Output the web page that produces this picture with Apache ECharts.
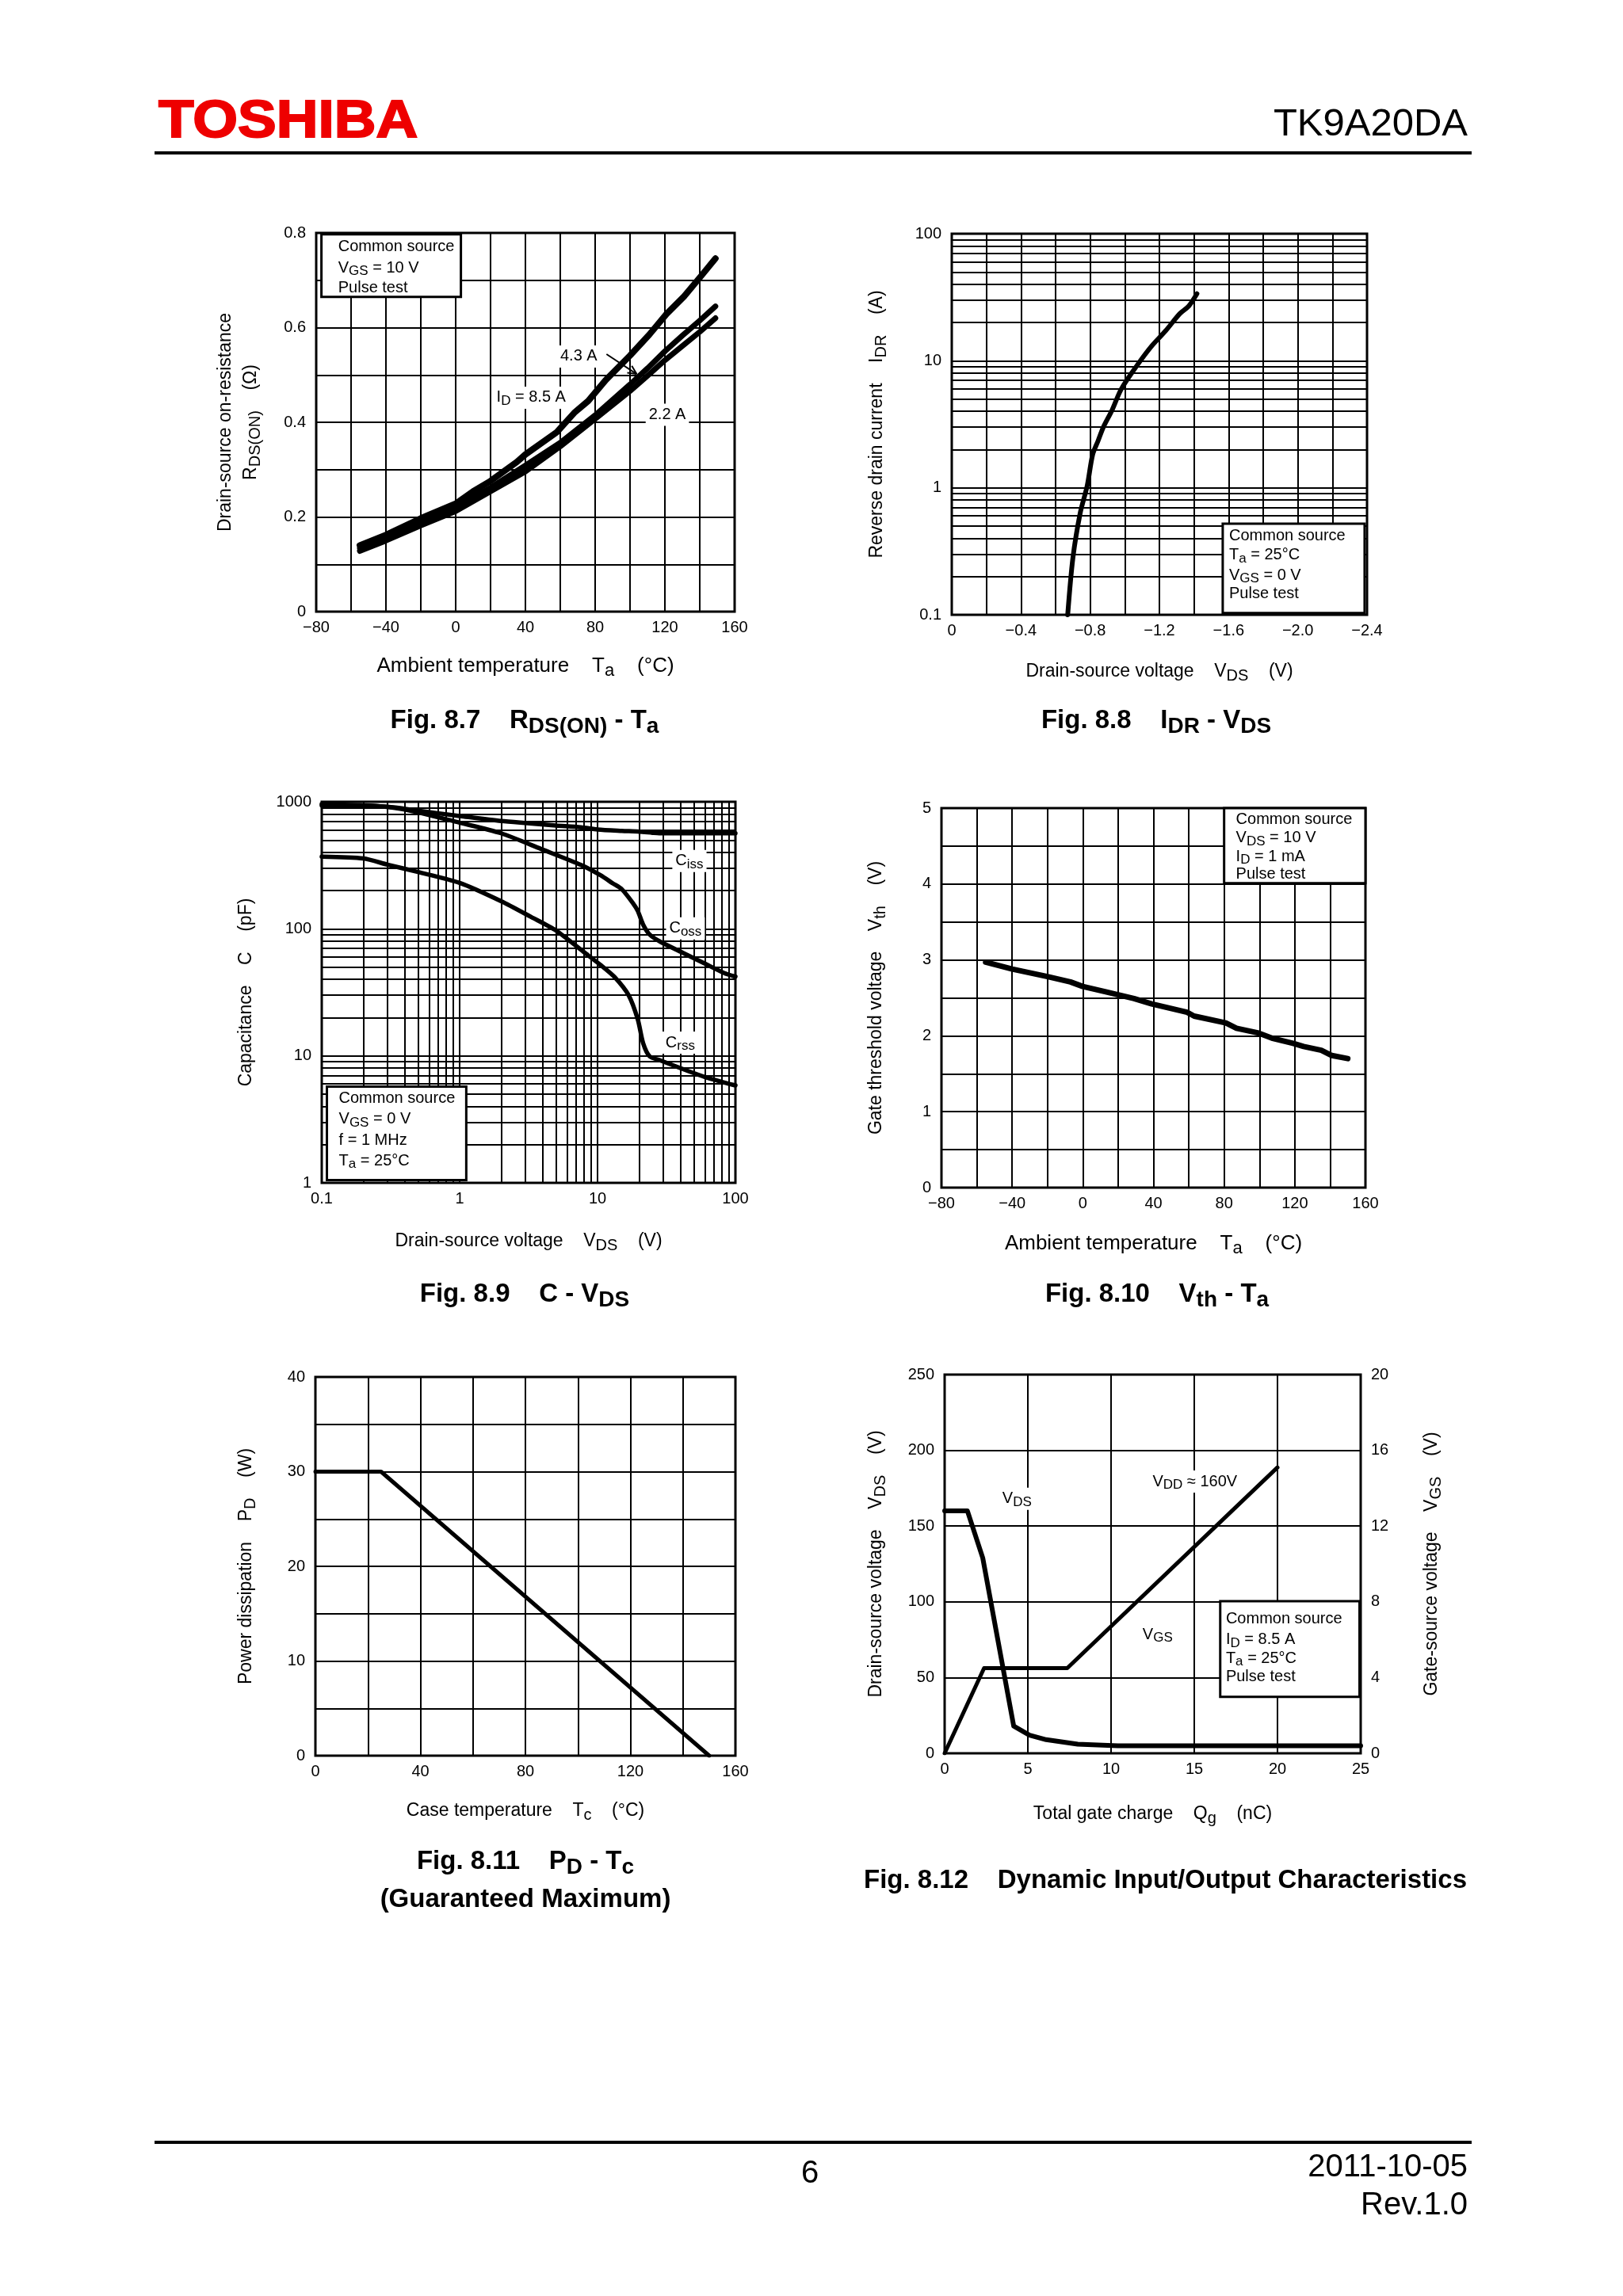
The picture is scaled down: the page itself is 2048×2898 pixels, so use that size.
<!DOCTYPE html>
<html><head><meta charset="utf-8">
<script src="https://cdn.jsdelivr.net/npm/echarts@6/dist/echarts.min.js"></script>
<style>html,body{margin:0;padding:0;background:#fff}#c{width:2048px;height:2898px}</style>
</head><body><div id="c"></div>
<script>
// ---------------- DATA ----------------
// Fig 8.7 RDS(ON) - Ta  [Ta (°C), RDS(ON) (Ω)]
const rds_8_5A = [[-55,0.140],[-40,0.162],[-20,0.197],[0,0.228],[10,0.254],[20,0.276],[35,0.316],[40,0.332],[58,0.379],[68,0.420],[76,0.445],[86,0.489],[100,0.541],[111,0.585],[121,0.629],[131,0.666],[141,0.710],[149,0.746]];
const rds_4_3A = [[-55,0.134],[-40,0.155],[-20,0.190],[0,0.222],[20,0.262],[40,0.309],[60,0.357],[80,0.415],[100,0.480],[110,0.514],[120,0.550],[130,0.583],[140,0.615],[149,0.645]];
const rds_2_2A = [[-55,0.128],[-40,0.150],[-20,0.182],[0,0.212],[20,0.254],[40,0.296],[60,0.349],[80,0.407],[100,0.466],[110,0.498],[120,0.531],[130,0.561],[140,0.591],[149,0.620]];
// Fig 8.8 IDR - VDS  [VDS (V), IDR (A)]
const idr_vds = [[-0.67,0.1],[-0.70,0.28],[-0.742,0.63],[-0.783,1.04],[-0.814,1.82],[-0.845,2.33],[-0.876,3.0],[-0.927,4.1],[-0.979,5.96],[-1.071,9.2],[-1.154,13],[-1.236,17.2],[-1.318,23.5],[-1.37,27],[-1.417,33.7]];
// Fig 8.9 C - VDS  [VDS (V), C (pF)]
const ciss = [[0.1,960],[0.3,913],[0.5,850],[1,773],[2,705],[3.1,678],[5,650],[7.6,630],[10,605],[15,590],[20,582],[25,570],[28,565],[50,565],[100,565]];
const coss = [[0.1,935],[0.19,940],[0.4,870],[1,685],[2,565],[3.9,425],[7.6,318],[10.5,264],[12.9,228],[15,205],[18,160],[19.6,138],[21.4,108],[23.9,90],[28.6,79],[42.5,64],[60.5,53],[82.4,45],[100,42]];
const crss = [[0.1,370],[0.2,358],[0.3,320],[0.5,280],[1,230],[2,165],[3.3,124],[5,97],[7.9,66],[10.5,52],[13.2,42],[16.8,30],[19.6,19.3],[21.4,12.6],[23.9,9.9],[28.6,9.2],[42.5,7.8],[60.5,6.8],[100,5.85]];
// Fig 8.10 Vth - Ta  [Ta (°C), Vth (V)]
const vth_ta = [[-55,2.97],[-40,2.88],[-20,2.78],[-7,2.71],[0,2.65],[13,2.58],[29,2.49],[39,2.42],[59,2.31],[63,2.26],[81,2.17],[87,2.10],[99,2.04],[107,1.97],[119,1.90],[125,1.86],[135,1.81],[141,1.74],[150,1.70]];
// Fig 8.11 PD - Tc  [Tc (°C), PD (W)]
const pd_tc = [[0,30],[25,30],[150,0]];
// Fig 8.12 Dynamic I/O  [Qg (nC), V]
const vds_qg = [[0,160],[1.37,160],[2.29,129],[4.15,18],[5.1,12],[6.1,9],[8,6],[10.4,5],[25,5]];
const vgs_qg = [[0,0],[2.37,4.5],[7.37,4.5],[20,15.1]];

// ---------------- STYLE HELPERS ----------------
const F = "'Liberation Sans', Arial, Helvetica, sans-serif";
function rs(size, weight, lh) {
  weight = weight || 'normal';
  const ss = Math.round(size * 0.85);
  return {
    n: {fontFamily: F, fontSize: size, fontWeight: weight, color: '#000', lineHeight: lh || Math.round(size * 1.2), verticalAlign: 'middle'},
    s: {fontFamily: F, fontSize: ss, fontWeight: weight, color: '#000', lineHeight: size, verticalAlign: 'middle', padding: [Math.round(size * 0.45), 0, 0, 0]}
  };
}
function rt() {
  const parts = Array.prototype.slice.call(arguments);
  return parts.map((p, i) => p === '' ? '' : (i % 2 === 0 ? '{n|' + p + '}' : '{s|' + p + '}')).join('');
}
const neg = v => v < 0 ? '\u2212' + (-v) : String(v);
const GL = {color: '#000', width: 2};

function axis(gi, o) {
  const base = {
    type: 'value', gridIndex: gi,
    axisLine: {show: false}, axisTick: {show: false},
    splitLine: {show: true, lineStyle: GL},
    nameLocation: 'middle',
    nameTextStyle: {rich: rs(23)}
  };
  const lab = {color: '#000', fontFamily: F, fontSize: 20, margin: 10, hideOverlap: false};
  if (o.axisLabel) Object.assign(lab, o.axisLabel);
  const r = Object.assign(base, o);
  r.axisLabel = lab;
  return r;
}
function minorLog(lo, hi) {
  const out = [];
  for (let d = Math.floor(Math.log10(lo)); d < Math.ceil(Math.log10(hi)); d++) {
    for (let k = 2; k <= 9; k++) { const v = +(k * Math.pow(10, d)).toPrecision(3); if (v > lo && v < hi) out.push(v); }
  }
  return out;
}
function gridMark(xs, ys) {
  return {
    silent: true, symbol: ['none', 'none'], animation: false,
    label: {show: false}, emphasis: {disabled: true},
    lineStyle: {color: '#000', width: 2, type: 'solid'},
    data: xs.map(v => ({xAxis: v})).concat(ys.map(v => ({yAxis: v})))
  };
}
function line(xi, yi, data, w, extra) {
  return Object.assign({type: 'line', xAxisIndex: xi, yAxisIndex: yi, data: data, showSymbol: false, symbol: 'none',
    lineStyle: {color: '#000', width: w, cap: 'round', join: 'round'}, itemStyle: {color: '#000'}, z: 5, silent: true}, extra || {});
}
const logFmt = v => String(+(+v).toPrecision(3));

// ---------------- LAYOUT ----------------
const grids = [
  {left: 399, top: 294, width: 528, height: 478},
  {left: 1201, top: 295, width: 524, height: 481},
  {left: 406, top: 1012, width: 522, height: 481},
  {left: 1188, top: 1020, width: 535, height: 479},
  {left: 398, top: 1738, width: 530, height: 478},
  {left: 1192, top: 1735, width: 525, height: 478}
];

const option = {
  animation: false,
  backgroundColor: '#ffffff',
  grid: grids.map(g => Object.assign({show: true, borderColor: '#000', borderWidth: 3, backgroundColor: 'rgba(0,0,0,0)', containLabel: false, outerBoundsMode: 'none'}, g)),
  xAxis: [
    axis(0, {min: -80, max: 160, interval: 20, axisLabel: {formatter: v => v % 40 === 0 ? neg(v) : ''},
      name: rt('Ambient temperature    T', 'a', '    (°C)'), nameGap: 53, nameTextStyle: {rich: rs(26)}}),
    axis(1, {min: -2.4, max: 0, interval: 0.2, inverse: true,
      axisLabel: {formatter: v => { const k = Math.round(-v * 10); return k % 4 === 0 ? (k === 0 ? '0' : '\u2212' + (k / 10).toFixed(1)) : ''; }},
      name: rt('Drain-source voltage    V', 'DS', '    (V)'), nameGap: 58}),
    axis(2, {type: 'log', logBase: 10, min: 0.1, max: 100, axisLabel: {formatter: logFmt},
      name: rt('Drain-source voltage    V', 'DS', '    (V)'), nameGap: 60}),
    axis(3, {min: -80, max: 160, interval: 20, axisLabel: {formatter: v => v % 40 === 0 ? neg(v) : ''},
      name: rt('Ambient temperature    T', 'a', '    (°C)'), nameGap: 55, nameTextStyle: {rich: rs(26)}}),
    axis(4, {min: 0, max: 160, interval: 20, axisLabel: {formatter: v => v % 40 === 0 ? String(v) : ''},
      name: rt('Case temperature    T', 'c', '    (°C)'), nameGap: 56}),
    axis(5, {min: 0, max: 25, interval: 5,
      name: rt('Total gate charge    Q', 'g', '    (nC)'), nameGap: 63})
  ],
  yAxis: [
    axis(0, {min: 0, max: 0.8, interval: 0.1, axisLabel: {margin: 13, formatter: v => { const k = Math.round(v * 10); return k % 2 === 0 ? (k === 0 ? '0' : (k / 10).toFixed(1)) : ''; }},
      name: rt('Drain-source on-resistance') + '\n' + rt('R', 'DS(ON)', '    (Ω)'), nameGap: 66, nameTextStyle: {rich: rs(23, 'normal', 32)}}),
    axis(1, {type: 'log', logBase: 10, min: 0.1, max: 100, axisLabel: {margin: 13, formatter: logFmt},
      name: rt('Reverse drain current    I', 'DR', '    (A)'), nameGap: 80}),
    axis(2, {type: 'log', logBase: 10, min: 1, max: 1000, axisLabel: {margin: 13, formatter: logFmt},
      name: rt('Capacitance    C    (pF)'), nameGap: 81}),
    axis(3, {min: 0, max: 5, interval: 0.5, axisLabel: {margin: 13, formatter: v => Number.isInteger(v) ? String(v) : ''},
      name: rt('Gate threshold voltage    V', 'th', '    (V)'), nameGap: 68}),
    axis(4, {min: 0, max: 40, interval: 5, axisLabel: {margin: 13, formatter: v => v % 10 === 0 ? String(v) : ''},
      name: rt('Power dissipation    P', 'D', '    (W)'), nameGap: 73}),
    axis(5, {min: 0, max: 250, interval: 50, axisLabel: {margin: 13},
      name: rt('Drain-source voltage    V', 'DS', '    (V)'), nameGap: 72}),
    axis(5, {min: 0, max: 20, interval: 4, position: 'right', splitLine: {show: false}, axisLabel: {margin: 13},
      name: rt('Gate-source voltage    V', 'GS', '    (V)'), nameGap: 76})
  ],
  series: [
    line(0, 0, rds_8_5A, 8, {name: 'ID = 8.5 A'}),
    line(0, 0, rds_4_3A, 7, {name: '4.3 A'}),
    line(0, 0, rds_2_2A, 7, {name: '2.2 A'}),
    line(1, 1, idr_vds, 6, {name: 'IDR', smooth: 0.3, markLine: gridMark([], minorLog(0.1, 100))}),
    line(2, 2, ciss, 5.5, {name: 'Ciss', smooth: 0.25, markLine: gridMark(minorLog(0.1, 100), minorLog(1, 1000))}),
    line(2, 2, coss, 5.5, {name: 'Coss', smooth: 0.25}),
    line(2, 2, crss, 5.5, {name: 'Crss', smooth: 0.25}),
    line(3, 3, vth_ta, 7, {name: 'Vth'}),
    line(4, 4, pd_tc, 5, {name: 'PD'}),
    line(5, 5, vds_qg, 6, {name: 'VDS'}),
    line(5, 6, vgs_qg, 5, {name: 'VGS'})
  ]
};

const chart = echarts.init(document.getElementById('c'), null, {renderer: 'canvas'});
chart.setOption(option);

// ---------------- ANNOTATIONS ----------------
const P = (xi, yi, x, y) => chart.convertToPixel({xAxisIndex: xi, yAxisIndex: yi}, [x, y]);
const G = [];
function box(xi, yi, x0, y0, x1, y1) {
  const a = P(xi, yi, x0, y0), b = P(xi, yi, x1, y1);
  G.push({type: 'rect', z: 100, shape: {x: Math.min(a[0], b[0]), y: Math.min(a[1], b[1]), width: Math.abs(b[0] - a[0]), height: Math.abs(b[1] - a[1])},
    style: {fill: '#fff', stroke: '#000', lineWidth: 3}});
}
function tAt(px, py, str, size, align, weight, bg) {
  const st = {text: str, rich: rs(size, weight), align: align || 'left', verticalAlign: 'middle'};
  if (bg) { st.backgroundColor = '#fff'; st.padding = [2, 4]; }
  G.push({type: 'text', z: 101, x: px, y: py, style: st});
}
function txt(xi, yi, x, y, str, align, bg) {
  const p = P(xi, yi, x, y);
  tAt(p[0], p[1], str, 20, align, 'normal', bg);
}
function legendBox(xi, yi, x0, y0, x1, y1, tx, ys, lines) {
  box(xi, yi, x0, y0, x1, y1);
  lines.forEach((l, i) => txt(xi, yi, tx, ys[i], l, 'left'));
}

// Fig 8.7
legendBox(0, 0, -77, 0.797, 3, 0.665, -67.4, [0.771, 0.726, 0.683],
  [rt('Common source'), rt('V', 'GS', ' = 10 V'), rt('Pulse test')]);
txt(0, 0, 70.6, 0.539, rt('4.3 A'), 'center', true);
txt(0, 0, 43.3, 0.452, rt('I', 'D', ' = 8.5 A'), 'center', true);
txt(0, 0, 121.4, 0.416, rt('2.2 A'), 'center', true);
(function () {
  const a = P(0, 0, 86.5, 0.544), b = P(0, 0, 103.8, 0.502);
  G.push({type: 'line', z: 101, shape: {x1: a[0], y1: a[1], x2: b[0], y2: b[1]}, style: {stroke: '#000', lineWidth: 2}});
  const ang = Math.atan2(b[1] - a[1], b[0] - a[0]), L = 12;
  [0.45, -0.45].forEach(d => {
    G.push({type: 'line', z: 101, shape: {x1: b[0], y1: b[1], x2: b[0] - L * Math.cos(ang + d), y2: b[1] - L * Math.sin(ang + d)}, style: {stroke: '#000', lineWidth: 2}});
  });
})();
// Fig 8.8
legendBox(1, 1, -1.566, 0.522, -2.386, 0.1033, -1.603, [0.415, 0.294, 0.205, 0.146],
  [rt('Common source'), rt('T', 'a', ' = 25°C'), rt('V', 'GS', ' = 0 V'), rt('Pulse test')]);
// Fig 8.9
legendBox(2, 2, 0.109, 5.73, 1.117, 1.05, 0.133, [4.6, 3.16, 2.17, 1.49],
  [rt('Common source'), rt('V', 'GS', ' = 0 V'), rt('f = 1 MHz'), rt('T', 'a', ' = 25°C')]);
txt(2, 2, 46.4, 342, rt('C', 'iss'), 'center', true);
txt(2, 2, 43.4, 101, rt('C', 'oss'), 'center', true);
txt(2, 2, 39.8, 12.7, rt('C', 'rss'), 'center', true);
// Fig 8.10
legendBox(3, 3, 80, 5, 160, 4.01, 86.7, [4.85, 4.61, 4.36, 4.13],
  [rt('Common source'), rt('V', 'DS', ' = 10 V'), rt('I', 'D', ' = 1 mA'), rt('Pulse test')]);
// Fig 8.12
legendBox(5, 5, 16.56, 100.4, 24.93, 37.3, 16.9, [88.6, 75.1, 62.6, 50.6],
  [rt('Common source'), rt('I', 'D', ' = 8.5 A'), rt('T', 'a', ' = 25°C'), rt('Pulse test')]);
txt(5, 5, 4.35, 168, rt('V', 'DS'), 'center', true);
txt(5, 5, 15.04, 179.4, rt('V', 'DD', ' ≈ 160V'), 'center', true);
txt(5, 5, 12.8, 78.3, rt('V', 'GS'), 'center', true);

// Captions
tAt(662, 910, rt('Fig. 8.7    R', 'DS(ON)', ' - T', 'a'), 33, 'center', 'bold');
tAt(1459, 910, rt('Fig. 8.8    I', 'DR', ' - V', 'DS'), 33, 'center', 'bold');
tAt(662, 1634, rt('Fig. 8.9    C - V', 'DS'), 33, 'center', 'bold');
tAt(1460, 1634, rt('Fig. 8.10    V', 'th', ' - T', 'a'), 33, 'center', 'bold');
tAt(663, 2350, rt('Fig. 8.11    P', 'D', ' - T', 'c'), 33, 'center', 'bold');
tAt(663, 2398, rt('(Guaranteed Maximum)'), 33, 'center', 'bold');
tAt(1090, 2374, rt('Fig. 8.12    Dynamic Input/Output Characteristics'), 33, 'left', 'bold');

// Header & footer
G.push({type: 'text', z: 101, x: 200, y: 155, scaleX: 1.09, style: {text: 'TOSHIBA', fontFamily: F, fontSize: 67, fontWeight: 'bold', fill: '#ee0000', stroke: '#ee0000', lineWidth: 2, align: 'left', verticalAlign: 'middle'}});
G.push({type: 'text', z: 101, x: 1852, y: 157, style: {text: 'TK9A20DA', fontFamily: F, fontSize: 49, fill: '#000', align: 'right', verticalAlign: 'middle'}});
G.push({type: 'rect', z: 101, shape: {x: 195, y: 191, width: 1662, height: 4}, style: {fill: '#000'}});
G.push({type: 'rect', z: 101, shape: {x: 195, y: 2702, width: 1662, height: 4}, style: {fill: '#000'}});
G.push({type: 'text', z: 101, x: 1022, y: 2744, style: {text: '6', fontFamily: F, fontSize: 40, fill: '#000', align: 'center', verticalAlign: 'middle'}});
G.push({type: 'text', z: 101, x: 1852, y: 2736, style: {text: '2011-10-05', fontFamily: F, fontSize: 40, fill: '#000', align: 'right', verticalAlign: 'middle'}});
G.push({type: 'text', z: 101, x: 1852, y: 2784, style: {text: 'Rev.1.0', fontFamily: F, fontSize: 40, fill: '#000', align: 'right', verticalAlign: 'middle'}});

chart.setOption({graphic: G});
</script>
</body></html>
